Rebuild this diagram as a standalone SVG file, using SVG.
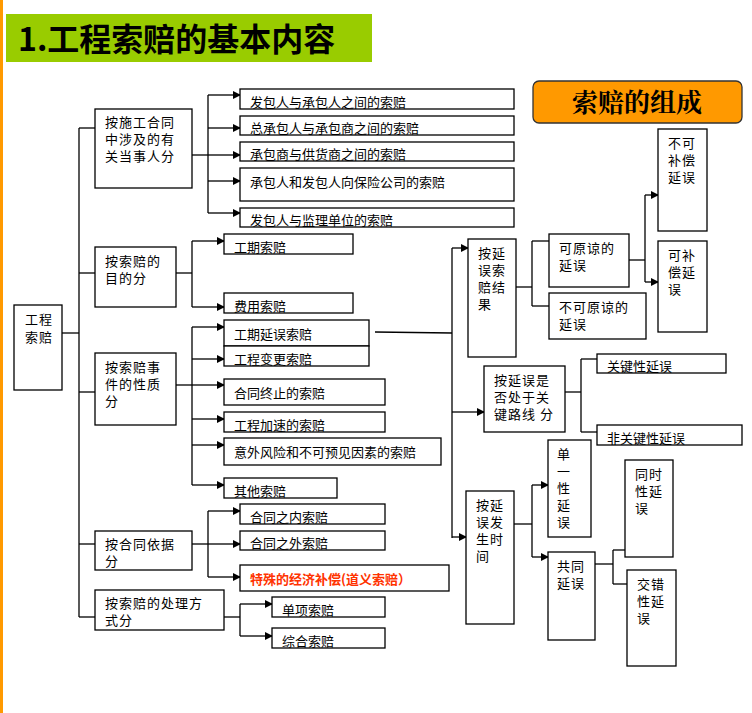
<svg xmlns="http://www.w3.org/2000/svg" width="752" height="713" viewBox="0 0 752 713">
<style>
.b{fill:#fff;stroke:#000;stroke-width:1.3}
.t{font-family:"Noto Sans CJK SC","Liberation Sans",sans-serif;font-size:13px;letter-spacing:1px;fill:#000}
.s{font-family:"Noto Sans CJK SC","Liberation Sans",sans-serif;font-size:13px;fill:#000}
.c line,.c polyline{stroke:#000;stroke-width:1.3;fill:none}
.a{marker-end:url(#ar)}
</style>
<defs><marker id="ar" markerWidth="8" markerHeight="8" refX="7" refY="4" orient="auto" markerUnits="userSpaceOnUse"><path d="M0,0L8,4L0,8z" fill="#000"/></marker></defs>
<rect x="0" y="0" width="752" height="713" fill="#fff"/>
<rect x="0" y="0" width="3" height="713" fill="#ff9900"/>
<g id="title"><rect x="6" y="14" width="366" height="48" fill="#99cc00"/>
<text x="18" y="51" font-family="'Noto Sans CJK SC',sans-serif" font-size="32" font-weight="bold">1.工程索赔的基本内容</text></g>
<g id="comp"><rect x="533" y="81" width="209" height="42" rx="6" fill="#ff9900" stroke="#333" stroke-width="1.3"/>
<text x="637" y="112" text-anchor="middle" font-family="'Noto Serif CJK SC','Noto Sans CJK SC',serif" font-size="26" font-weight="bold">索赔的组成</text></g>
<g class="c">
<line x1="62" y1="333" x2="79" y2="333"/><line x1="79" y1="128" x2="79" y2="617"/>
<line x1="79" y1="128" x2="95" y2="128"/><line x1="79" y1="273" x2="95" y2="273"/><line x1="79" y1="392" x2="95" y2="392"/><line x1="79" y1="544" x2="95" y2="544"/><line x1="79" y1="617" x2="95" y2="617"/>
<line x1="192" y1="155" x2="208" y2="155"/><line x1="208" y1="95" x2="208" y2="213"/>
<line class="a" x1="208" y1="95" x2="240" y2="95"/><line class="a" x1="208" y1="128" x2="240" y2="128"/><line class="a" x1="208" y1="155" x2="240" y2="155"/><line class="a" x1="208" y1="181" x2="240" y2="181"/><line class="a" x1="208" y1="213" x2="240" y2="213"/>
<line x1="176" y1="273" x2="192" y2="273"/><line x1="192" y1="241" x2="192" y2="307"/>
<line class="a" x1="192" y1="241" x2="224" y2="241"/><line class="a" x1="192" y1="307" x2="224" y2="307"/>
<line x1="176" y1="385" x2="192" y2="385"/><line x1="192" y1="327" x2="192" y2="485"/>
<line class="a" x1="192" y1="327" x2="224" y2="327"/><line class="a" x1="192" y1="359" x2="224" y2="359"/><line class="a" x1="192" y1="385" x2="224" y2="385"/><line class="a" x1="192" y1="419" x2="224" y2="419"/><line class="a" x1="192" y1="445" x2="224" y2="445"/><line class="a" x1="192" y1="485" x2="224" y2="485"/>
<line x1="192" y1="544" x2="208" y2="544"/><line x1="208" y1="511" x2="208" y2="577"/>
<line class="a" x1="208" y1="511" x2="240" y2="511"/><line class="a" x1="208" y1="544" x2="240" y2="544"/><line class="a" x1="208" y1="577" x2="240" y2="577"/>
<line x1="224" y1="617" x2="240" y2="617"/><line x1="240" y1="604" x2="240" y2="636"/>
<line class="a" x1="240" y1="604" x2="272" y2="604"/><line class="a" x1="240" y1="636" x2="272" y2="636"/>
<line x1="375" y1="332" x2="452" y2="333"/><line x1="452" y1="248" x2="452" y2="538"/>
<line class="a" x1="452" y1="248" x2="468" y2="248"/><line class="a" x1="452" y1="412" x2="484" y2="412"/><line class="a" x1="452" y1="537" x2="466" y2="537"/>
<line x1="516" y1="287" x2="532" y2="287"/><line x1="532" y1="241" x2="532" y2="306"/><line x1="532" y1="241" x2="549" y2="241"/><line x1="532" y1="306" x2="549" y2="306"/>
<line x1="629" y1="260" x2="645" y2="260"/><line x1="645" y1="195" x2="645" y2="282"/>
<line class="a" x1="645" y1="195" x2="658" y2="195"/><line class="a" x1="645" y1="282" x2="658" y2="282"/>
<line x1="565" y1="392" x2="581" y2="392"/><line x1="581" y1="359" x2="581" y2="432"/><line x1="581" y1="359" x2="597" y2="359"/><line x1="581" y1="432" x2="597" y2="432"/>
<line x1="514" y1="524" x2="532" y2="524"/><line x1="532" y1="485" x2="532" y2="557"/>
<line class="a" x1="532" y1="485" x2="548" y2="485"/><line class="a" x1="532" y1="557" x2="548" y2="557"/>
<line x1="595" y1="564" x2="613" y2="564"/><line x1="613" y1="550" x2="613" y2="584"/><line x1="613" y1="550" x2="625" y2="550"/><line x1="613" y1="584" x2="627" y2="584"/>
</g>
<g id="root"><rect class="b" x="14" y="305" width="48" height="85"/><text class="t" x="25" y="324">工程</text><text class="t" x="25" y="342">索赔</text></g>
<g id="b1"><rect class="b" x="95" y="109" width="97" height="79"/><text class="t" x="105" y="127">按施工合同</text><text class="t" x="105" y="144">中涉及的有</text><text class="t" x="105" y="161">关当事人分</text></g>
<g id="b1a"><rect class="b" x="240" y="89" width="274" height="20"/><text class="s" x="250" y="107">发包人与承包人之间的索赔</text></g>
<g id="b1b"><rect class="b" x="240" y="116" width="274" height="19"/><text class="s" x="250" y="133">总承包人与承包商之间的索赔</text></g>
<g id="b1c"><rect class="b" x="240" y="142" width="274" height="19"/><text class="s" x="250" y="159">承包商与供货商之间的索赔</text></g>
<g id="b1d"><rect class="b" x="240" y="168" width="274" height="33"/><text class="s" x="250" y="187">承包人和发包人向保险公司的索赔</text></g>
<g id="b1e"><rect class="b" x="240" y="208" width="274" height="19"/><text class="s" x="250" y="225">发包人与监理单位的索赔</text></g>
<g id="b2"><rect class="b" x="95" y="247" width="81" height="60"/><text class="t" x="105" y="266">按索赔的</text><text class="t" x="105" y="283">目的分</text></g>
<g id="b2a"><rect class="b" x="224" y="234" width="129" height="20"/><text class="s" x="234" y="252">工期索赔</text></g>
<g id="b2b"><rect class="b" x="224" y="293" width="129" height="20"/><text class="s" x="234" y="311">费用索赔</text></g>
<g id="b3"><rect class="b" x="95" y="353" width="81" height="72"/><text class="t" x="105" y="372">按索赔事</text><text class="t" x="105" y="389">件的性质</text><text class="t" x="105" y="406">分</text></g>
<g id="b3a"><rect class="b" x="224" y="320" width="145" height="26"/><text class="s" x="234" y="339">工期延误索赔</text></g>
<g id="b3b"><rect class="b" x="224" y="346" width="145" height="20"/><text class="s" x="234" y="364">工程变更索赔</text></g>
<g id="b3c"><rect class="b" x="224" y="379" width="161" height="26"/><text class="s" x="234" y="398">合同终止的索赔</text></g>
<g id="b3d"><rect class="b" x="224" y="412" width="161" height="20"/><text class="s" x="234" y="430">工程加速的索赔</text></g>
<g id="b3e"><rect class="b" x="224" y="438" width="217" height="27"/><text class="s" x="234" y="457">意外风险和不可预见因素的索赔</text></g>
<g id="b3f"><rect class="b" x="224" y="478" width="113" height="20"/><text class="s" x="234" y="496">其他索赔</text></g>
<g id="b4"><rect class="b" x="95" y="531" width="97" height="39"/><text class="t" x="105" y="549">按合同依据</text><text class="t" x="105" y="566">分</text></g>
<g id="b4a"><rect class="b" x="240" y="504" width="145" height="20"/><text class="s" x="250" y="522">合同之内索赔</text></g>
<g id="b4b"><rect class="b" x="240" y="531" width="145" height="19"/><text class="s" x="250" y="548">合同之外索赔</text></g>
<g id="b4c"><rect class="b" x="240" y="565" width="209" height="26"/><text x="250" y="584" font-family="'Noto Sans CJK SC',sans-serif" font-size="13" font-weight="bold" fill="#ff3300">特殊的经济补偿(道义索赔）</text></g>
<g id="b5"><rect class="b" x="95" y="590" width="129" height="40"/><text class="t" x="105" y="608">按索赔的处理方</text><text class="t" x="105" y="625">式分</text></g>
<g id="b5a"><rect class="b" x="272" y="597" width="113" height="20"/><text class="s" x="282" y="615">单项索赔</text></g>
<g id="b5b"><rect class="b" x="272" y="628" width="113" height="20"/><text class="s" x="282" y="646">综合索赔</text></g>
<g id="r1"><rect class="b" x="468" y="239" width="48" height="118"/><text class="t" x="478" y="258">按延</text><text class="t" x="478" y="275">误索</text><text class="t" x="478" y="292">赔结</text><text class="t" x="478" y="309">果</text></g>
<g id="r1a"><rect class="b" x="549" y="234" width="80" height="53"/><text class="t" x="559" y="253">可原谅的</text><text class="t" x="559" y="270">延误</text></g>
<g id="r1b"><rect class="b" x="549" y="293" width="97" height="46"/><text class="t" x="559" y="312">不可原谅的</text><text class="t" x="559" y="329">延误</text></g>
<g id="r1c"><rect class="b" x="658" y="129" width="49" height="102"/><text class="t" x="668" y="148">不可</text><text class="t" x="668" y="165">补偿</text><text class="t" x="668" y="182">延误</text></g>
<g id="r1d"><rect class="b" x="658" y="241" width="49" height="91"/><text class="t" x="668" y="260">可补</text><text class="t" x="668" y="277">偿延</text><text class="t" x="668" y="294">误</text></g>
<g id="r2"><rect class="b" x="484" y="366" width="81" height="66"/><text class="t" x="494" y="385">按延误是</text><text class="t" x="494" y="402">否处于关</text><text class="t" x="494" y="419">键路线 分</text></g>
<g id="r2a"><rect class="b" x="597" y="354" width="129" height="19"/><text class="s" x="607" y="371">关键性延误</text></g>
<g id="r2b"><rect class="b" x="597" y="425" width="145" height="20"/><text class="s" x="607" y="443">非关键性延误</text></g>
<g id="r3"><rect class="b" x="466" y="491" width="48" height="133"/><text class="t" x="476" y="510">按延</text><text class="t" x="476" y="527">误发</text><text class="t" x="476" y="544">生时</text><text class="t" x="476" y="561">间</text></g>
<g id="r3a"><rect class="b" x="548" y="440" width="43" height="97"/><text class="t" x="557" y="459">单</text><text class="t" x="557" y="476">一</text><text class="t" x="557" y="493">性</text><text class="t" x="557" y="510">延</text><text class="t" x="557" y="527">误</text></g>
<g id="r3b"><rect class="b" x="548" y="552" width="47" height="88"/><text class="t" x="557" y="571">共同</text><text class="t" x="557" y="588">延误</text></g>
<g id="r3c"><rect class="b" x="625" y="460" width="48" height="97"/><text class="t" x="635" y="479">同时</text><text class="t" x="635" y="496">性延</text><text class="t" x="635" y="513">误</text></g>
<g id="r3d"><rect class="b" x="627" y="570" width="49" height="96"/><text class="t" x="637" y="589">交错</text><text class="t" x="637" y="606">性延</text><text class="t" x="637" y="623">误</text></g>
</svg>
